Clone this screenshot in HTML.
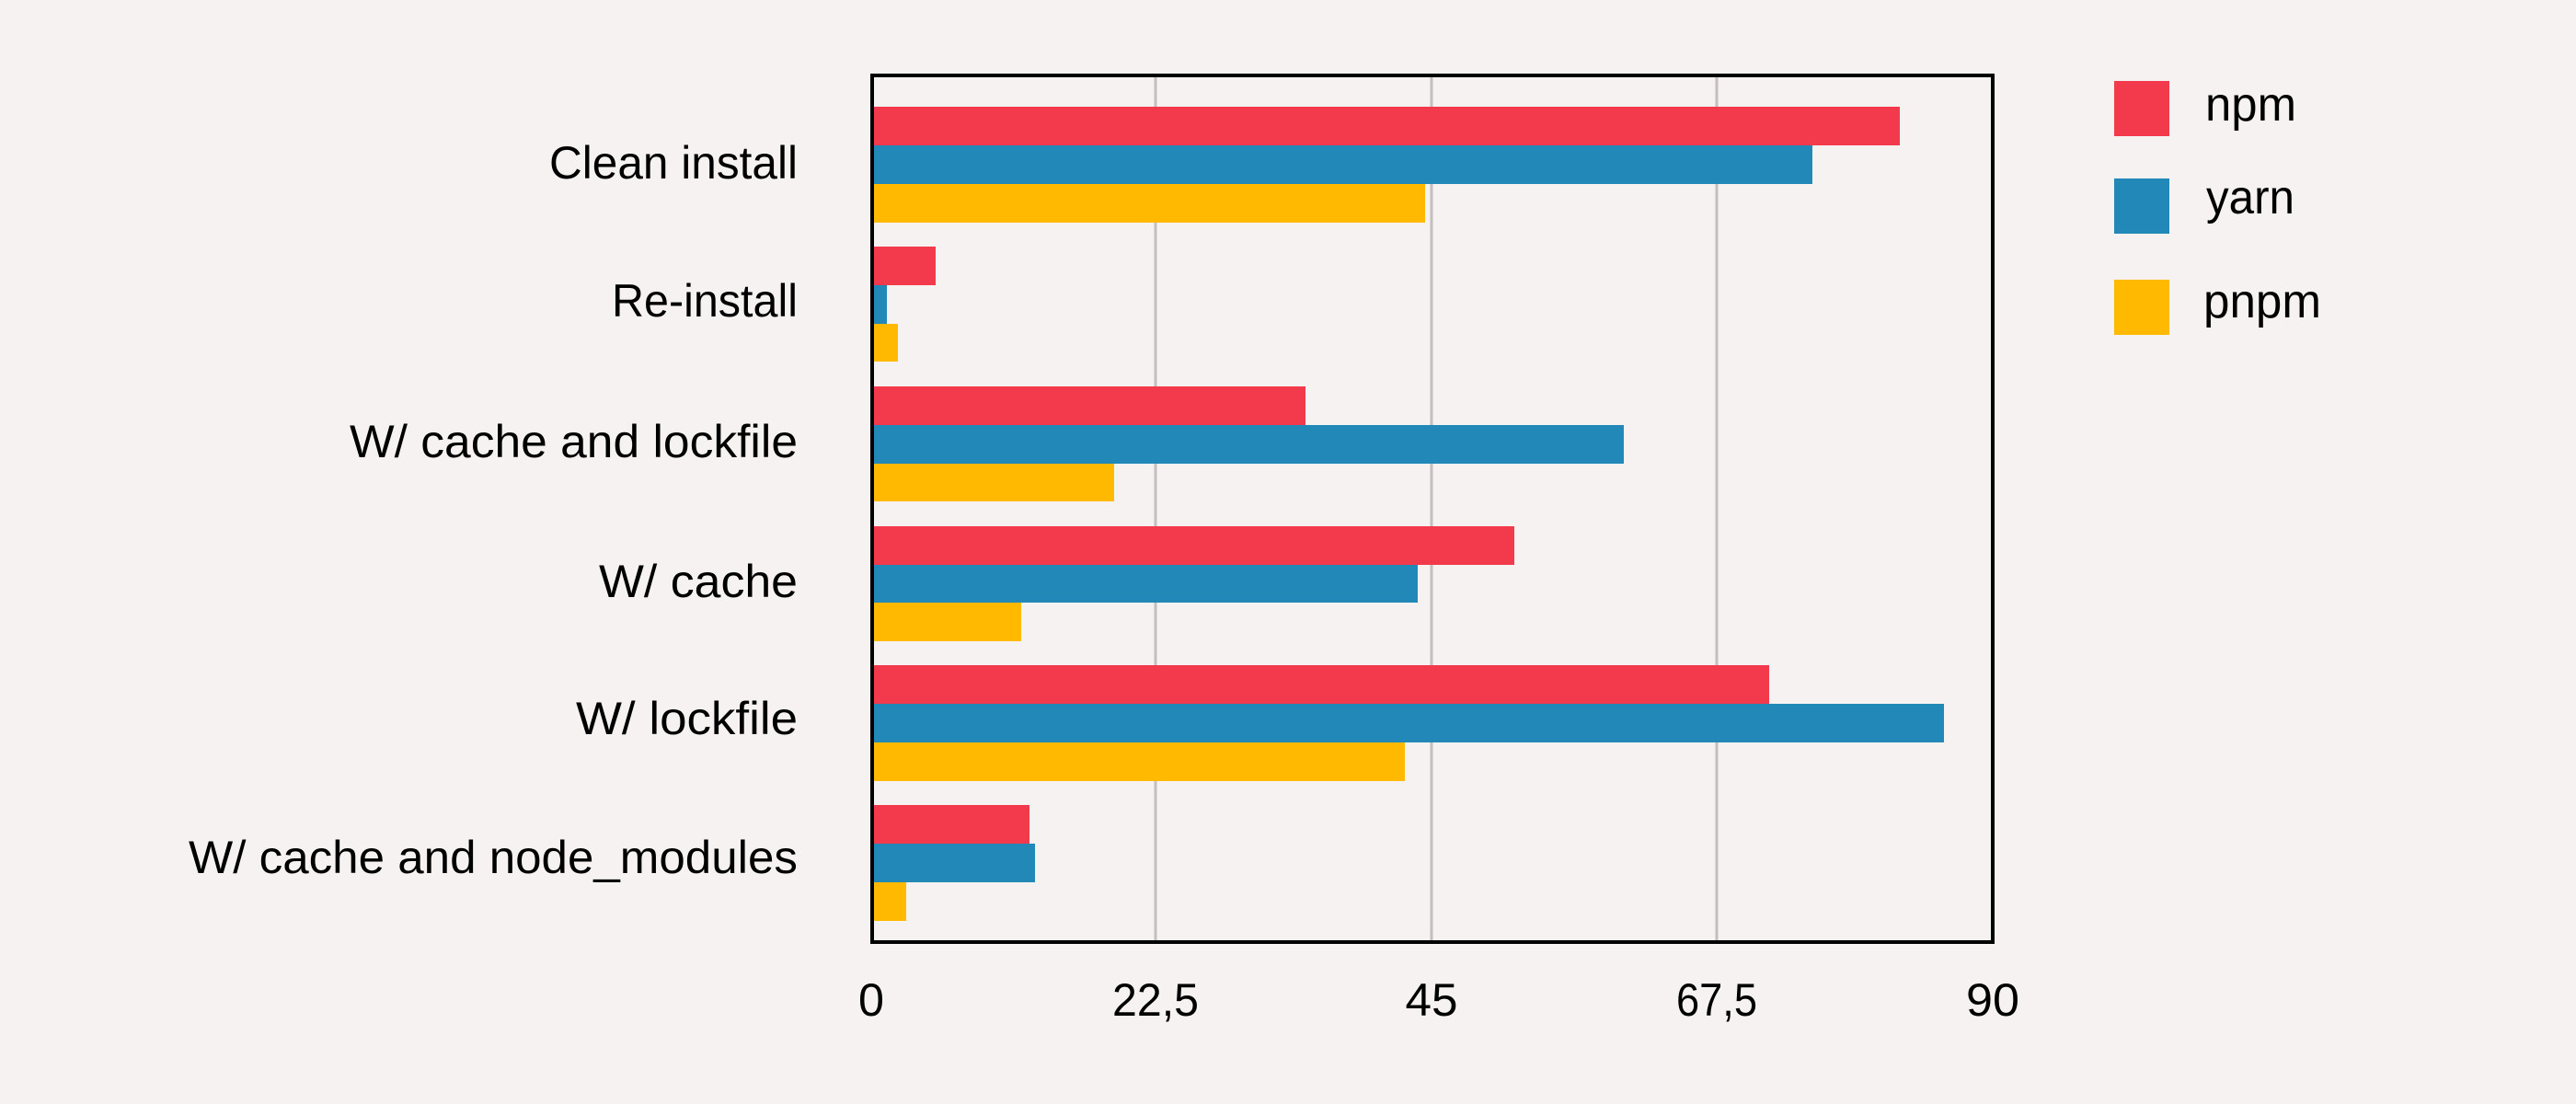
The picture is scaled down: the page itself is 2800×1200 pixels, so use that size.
<!DOCTYPE html>
<html><head><meta charset="utf-8"><style>
html,body{margin:0;padding:0;background:#f5f2f1;}
svg{display:block;}
text{font-family:"Liberation Sans",sans-serif;fill:#000;}
</style></head><body>
<svg width="2800" height="1200" viewBox="0 0 2800 1200" xmlns="http://www.w3.org/2000/svg">
<rect width="2800" height="1200" fill="#f5f2f1"/>
<g stroke="#c4bfbe" stroke-width="3">
<line x1="1256" y1="84" x2="1256" y2="1022"/>
<line x1="1556" y1="84" x2="1556" y2="1022"/>
<line x1="1866" y1="84" x2="1866" y2="1022"/>
</g>
<rect x="950" y="116" width="1115" height="42" fill="#f23a4c"/>
<rect x="950" y="158" width="1020" height="42" fill="#2288b8"/>
<rect x="950" y="200" width="599" height="42" fill="#ffba00"/>
<rect x="950" y="268" width="67" height="42" fill="#f23a4c"/>
<rect x="950" y="310" width="14" height="42" fill="#2288b8"/>
<rect x="950" y="352" width="26" height="41" fill="#ffba00"/>
<rect x="950" y="420" width="469" height="42" fill="#f23a4c"/>
<rect x="950" y="462" width="815" height="42" fill="#2288b8"/>
<rect x="950" y="504" width="261" height="41" fill="#ffba00"/>
<rect x="950" y="572" width="696" height="42" fill="#f23a4c"/>
<rect x="950" y="614" width="591" height="41" fill="#2288b8"/>
<rect x="950" y="655" width="160" height="42" fill="#ffba00"/>
<rect x="950" y="723" width="973" height="42" fill="#f23a4c"/>
<rect x="950" y="765" width="1163" height="42" fill="#2288b8"/>
<rect x="950" y="807" width="577" height="42" fill="#ffba00"/>
<rect x="950" y="875" width="169" height="42" fill="#f23a4c"/>
<rect x="950" y="917" width="175" height="42" fill="#2288b8"/>
<rect x="950" y="959" width="35" height="42" fill="#ffba00"/>
<rect x="948" y="82" width="1218" height="942" fill="none" stroke="#000" stroke-width="4"/>
<g font-size="50" text-anchor="end">
<text x="867" y="194" textLength="270" lengthAdjust="spacingAndGlyphs">Clean install</text>
<text x="867" y="344" textLength="202" lengthAdjust="spacingAndGlyphs">Re-install</text>
<text x="867" y="497" textLength="487" lengthAdjust="spacingAndGlyphs">W/ cache and lockfile</text>
<text x="867" y="649" textLength="216" lengthAdjust="spacingAndGlyphs">W/ cache</text>
<text x="867" y="798" textLength="241" lengthAdjust="spacingAndGlyphs">W/ lockfile</text>
<text x="867" y="949" textLength="662" lengthAdjust="spacingAndGlyphs">W/ cache and node_modules</text>
</g>
<g font-size="50" text-anchor="middle">
<text x="947" y="1104" textLength="28" lengthAdjust="spacingAndGlyphs">0</text>
<text x="1256" y="1104" textLength="94" lengthAdjust="spacingAndGlyphs">22,5</text>
<text x="1556" y="1104" textLength="57" lengthAdjust="spacingAndGlyphs">45</text>
<text x="1866" y="1104" textLength="88" lengthAdjust="spacingAndGlyphs">67,5</text>
<text x="2166" y="1104" textLength="58" lengthAdjust="spacingAndGlyphs">90</text>
</g>
<rect x="2298" y="88" width="60" height="60" fill="#f23a4c"/>
<rect x="2298" y="194" width="60" height="60" fill="#2288b8"/>
<rect x="2298" y="304" width="60" height="60" fill="#ffba00"/>
<g font-size="52">
<text x="2397" y="131" textLength="99" lengthAdjust="spacingAndGlyphs">npm</text>
<text x="2398" y="232" textLength="96" lengthAdjust="spacingAndGlyphs">yarn</text>
<text x="2395" y="345" textLength="128" lengthAdjust="spacingAndGlyphs">pnpm</text>
</g>
</svg>
</body></html>
